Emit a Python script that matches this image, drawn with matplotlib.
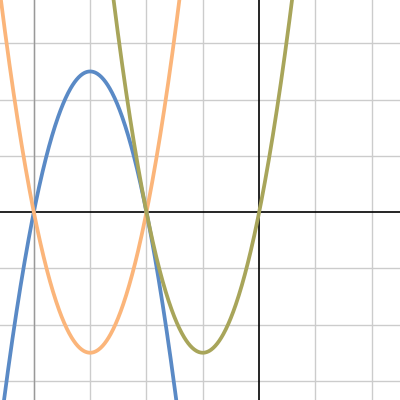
import numpy as np
import matplotlib
matplotlib.use("Agg")
import matplotlib.pyplot as plt

# Parabolas y = a*(x-h)^2 + k
names = ["blue", "orange", "olive"]
a_vals = [-2.5, 2.5, 2.5]
h_vals = [-3.0, -3.0, -1.0]
k_vals = [2.5, -2.5, -2.5]
colors = ["#5a8ac6", "#fbb57a", "#a8a55a"]

xmin, xmax = -4.6, 2.5
ymin, ymax = -3.34, 3.77

fig = plt.figure(figsize=(4, 4), dpi=100)
ax = fig.add_axes([0, 0, 1, 1])
ax.set_xlim(xmin, xmax)
ax.set_ylim(ymin, ymax)
ax.axis("off")

for gx in range(-4, 3):
    if gx != 0:
        ax.axvline(gx, color="#cccccc", lw=1, zorder=0)
for gy in range(-3, 4):
    if gy != 0:
        ax.axhline(gy, color="#cccccc", lw=1, zorder=0)
ax.axvline(-4, color="#999999", lw=1, zorder=0)
ax.axvline(0, color="black", lw=1.2, zorder=1)
ax.axhline(0, color="black", lw=1.2, zorder=1)

x = np.linspace(xmin, xmax, 800)
for a, h, k, c in zip(a_vals, h_vals, k_vals, colors):
    ax.plot(x, a * (x - h) ** 2 + k, color=c, lw=2.7, zorder=2)

fig.savefig("out.png", dpi=100)
